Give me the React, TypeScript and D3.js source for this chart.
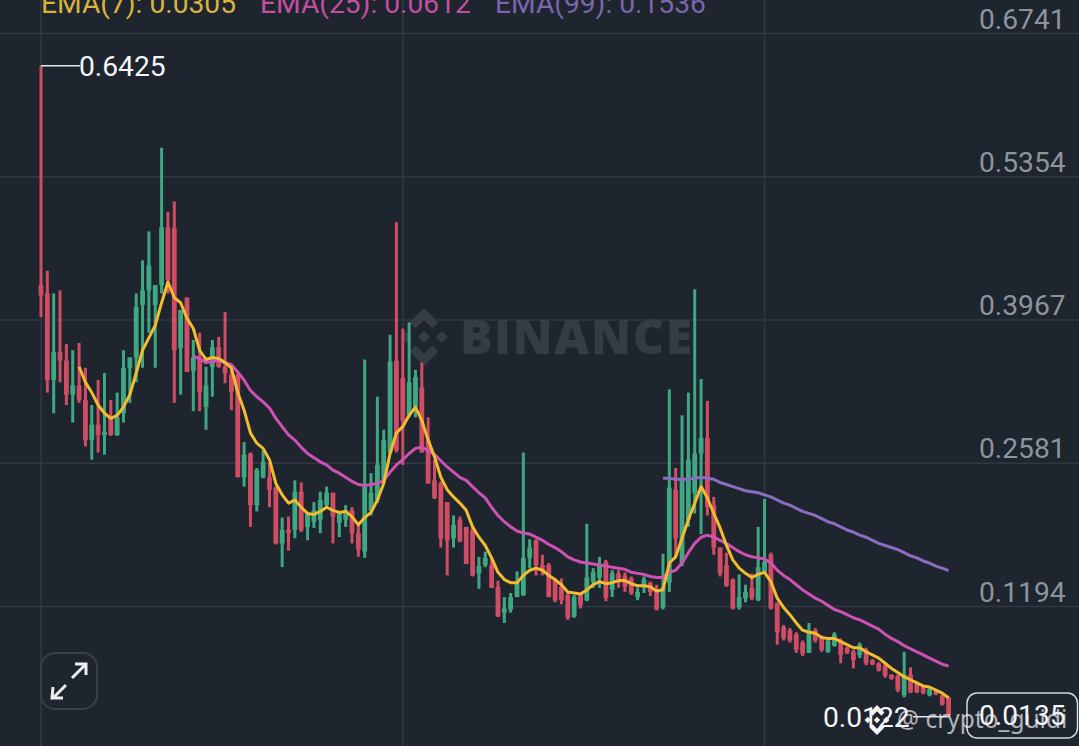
import * as d3 from 'd3';
import React, { useRef, useEffect } from 'react';

const WIDTH = 1079;
const HEIGHT = 746;

const yTicks = [0.6741, 0.5354, 0.3967, 0.2581, 0.1194];
const timeGridIndexes = [0, 57, 114]; // candles that sit on a vertical grid line

const opens = [
    0.43, 0.422, 0.338, 0.365, 0.357, 0.324, 0.333, 0.319, 0.28, 0.295, 0.285, 0.302,
    0.285, 0.306, 0.35, 0.36, 0.411, 0.425, 0.411, 0.43, 0.486, 0.485, 0.369, 0.418,
    0.347, 0.359, 0.312, 0.351, 0.37, 0.351, 0.343, 0.343, 0.244, 0.267, 0.217, 0.244,
    0.244, 0.234, 0.18, 0.193, 0.193, 0.23, 0.196, 0.201, 0.203, 0.217, 0.229, 0.2,
    0.203, 0.212, 0.19, 0.172, 0.212, 0.222, 0.241, 0.268, 0.357, 0.34, 0.304, 0.312,
    0.331, 0.28, 0.241, 0.238, 0.22, 0.185, 0.203, 0.196, 0.193, 0.151, 0.159, 0.159,
    0.138, 0.113, 0.116, 0.128, 0.13, 0.166, 0.183, 0.159, 0.159, 0.145, 0.138, 0.13,
    0.109, 0.131, 0.125, 0.143, 0.147, 0.162, 0.135, 0.151, 0.149, 0.146, 0.128, 0.138,
    0.142, 0.135, 0.118, 0.142, 0.232, 0.161, 0.203, 0.229, 0.267, 0.282, 0.217, 0.176,
    0.159, 0.145, 0.118, 0.127, 0.137, 0.125, 0.152, 0.169, 0.122, 0.099, 0.096, 0.092,
    0.084, 0.074, 0.096, 0.089, 0.075, 0.081, 0.086, 0.079, 0.075, 0.072, 0.077, 0.067,
    0.064, 0.062, 0.053, 0.052, 0.033, 0.053, 0.045, 0.042, 0.033, 0.037, 0.033, 0.031,
];
const closes = [
    0.42, 0.338, 0.365, 0.357, 0.324, 0.333, 0.319, 0.28, 0.295, 0.285, 0.288, 0.285,
    0.302, 0.35, 0.36, 0.409, 0.425, 0.449, 0.43, 0.486, 0.435, 0.367, 0.406, 0.346,
    0.36, 0.326, 0.333, 0.37, 0.351, 0.345, 0.327, 0.244, 0.266, 0.217, 0.251, 0.259,
    0.232, 0.18, 0.193, 0.19, 0.23, 0.193, 0.209, 0.212, 0.222, 0.229, 0.206, 0.209,
    0.212, 0.19, 0.174, 0.235, 0.229, 0.256, 0.28, 0.356, 0.27, 0.299, 0.336, 0.341,
    0.268, 0.238, 0.224, 0.185, 0.183, 0.198, 0.182, 0.16, 0.149, 0.158, 0.166, 0.137,
    0.109, 0.117, 0.128, 0.143, 0.166, 0.176, 0.159, 0.154, 0.128, 0.125, 0.125, 0.108,
    0.128, 0.12, 0.147, 0.152, 0.159, 0.127, 0.151, 0.142, 0.138, 0.132, 0.133, 0.145,
    0.133, 0.116, 0.138, 0.234, 0.185, 0.241, 0.261, 0.267, 0.282, 0.215, 0.176, 0.151,
    0.139, 0.117, 0.128, 0.133, 0.127, 0.157, 0.162, 0.117, 0.094, 0.088, 0.086, 0.077,
    0.073, 0.096, 0.086, 0.077, 0.086, 0.092, 0.072, 0.074, 0.067, 0.082, 0.064, 0.063,
    0.057, 0.052, 0.049, 0.038, 0.053, 0.036, 0.036, 0.035, 0.039, 0.034, 0.024, 0.0135,
];
const highs = [
    0.6425, 0.444, 0.422, 0.425, 0.373, 0.367, 0.374, 0.35, 0.314, 0.338, 0.345, 0.319,
    0.326, 0.367, 0.36, 0.422, 0.454, 0.482, 0.43, 0.563, 0.501, 0.511, 0.406, 0.418,
    0.377, 0.384, 0.351, 0.377, 0.38, 0.404, 0.351, 0.345, 0.278, 0.268, 0.253, 0.27,
    0.258, 0.235, 0.205, 0.206, 0.241, 0.239, 0.209, 0.22, 0.23, 0.235, 0.229, 0.21,
    0.217, 0.215, 0.198, 0.358, 0.248, 0.322, 0.29, 0.382, 0.491, 0.388, 0.394, 0.348,
    0.355, 0.302, 0.261, 0.24, 0.22, 0.207, 0.206, 0.196, 0.195, 0.167, 0.172, 0.167,
    0.144, 0.128, 0.132, 0.153, 0.268, 0.184, 0.184, 0.169, 0.161, 0.146, 0.146, 0.132,
    0.13, 0.132, 0.199, 0.156, 0.167, 0.164, 0.154, 0.154, 0.152, 0.148, 0.137, 0.148,
    0.143, 0.14, 0.17, 0.329, 0.253, 0.304, 0.326, 0.426, 0.339, 0.318, 0.225, 0.176,
    0.171, 0.146, 0.15, 0.14, 0.151, 0.196, 0.223, 0.171, 0.123, 0.101, 0.098, 0.094,
    0.086, 0.103, 0.098, 0.091, 0.089, 0.094, 0.088, 0.08, 0.077, 0.084, 0.079, 0.068,
    0.065, 0.064, 0.053, 0.053, 0.075, 0.06, 0.046, 0.043, 0.04, 0.038, 0.033, 0.031,
];
const lows = [
    0.399, 0.326, 0.306, 0.336, 0.314, 0.297, 0.316, 0.274, 0.261, 0.268, 0.266, 0.284,
    0.284, 0.297, 0.316, 0.336, 0.35, 0.384, 0.35, 0.422, 0.422, 0.316, 0.324, 0.346,
    0.308, 0.308, 0.29, 0.322, 0.35, 0.335, 0.309, 0.244, 0.235, 0.196, 0.211, 0.243,
    0.215, 0.179, 0.157, 0.173, 0.185, 0.191, 0.183, 0.195, 0.19, 0.214, 0.18, 0.186,
    0.196, 0.18, 0.167, 0.166, 0.207, 0.219, 0.238, 0.267, 0.268, 0.256, 0.302, 0.302,
    0.268, 0.238, 0.223, 0.176, 0.149, 0.176, 0.181, 0.16, 0.148, 0.136, 0.157, 0.137,
    0.109, 0.103, 0.113, 0.128, 0.129, 0.156, 0.149, 0.149, 0.128, 0.123, 0.121, 0.106,
    0.108, 0.117, 0.124, 0.137, 0.137, 0.124, 0.128, 0.137, 0.133, 0.13, 0.125, 0.132,
    0.129, 0.115, 0.116, 0.133, 0.167, 0.158, 0.196, 0.209, 0.189, 0.207, 0.169, 0.148,
    0.138, 0.116, 0.116, 0.123, 0.125, 0.124, 0.151, 0.116, 0.082, 0.086, 0.084, 0.074,
    0.071, 0.074, 0.084, 0.075, 0.074, 0.08, 0.064, 0.073, 0.059, 0.069, 0.062, 0.062,
    0.056, 0.05, 0.048, 0.036, 0.031, 0.035, 0.035, 0.034, 0.032, 0.033, 0.023, 0.0122,
];

// EMA lines only start once they have enough candles behind them
const ema7Start = 6;
const ema7 = [
    0.351, 0.336, 0.326, 0.314, 0.306, 0.301, 0.304, 0.312, 0.324, 0.345, 0.367, 0.379,
    0.391, 0.413, 0.433, 0.418, 0.413, 0.398, 0.388, 0.367, 0.358, 0.36, 0.359, 0.355,
    0.35, 0.326, 0.309, 0.287, 0.277, 0.272, 0.261, 0.238, 0.227, 0.219, 0.222, 0.215,
    0.209, 0.208, 0.211, 0.215, 0.212, 0.21, 0.211, 0.206, 0.198, 0.205, 0.21, 0.222,
    0.238, 0.267, 0.287, 0.293, 0.304, 0.312, 0.299, 0.28, 0.264, 0.244, 0.232, 0.225,
    0.219, 0.212, 0.196, 0.186, 0.178, 0.166, 0.152, 0.145, 0.142, 0.142, 0.149, 0.154,
    0.156, 0.154, 0.149, 0.145, 0.14, 0.133, 0.132, 0.131, 0.135, 0.14, 0.143, 0.141,
    0.142, 0.144, 0.144, 0.141, 0.139, 0.139, 0.138, 0.134, 0.135, 0.161, 0.167, 0.185,
    0.203, 0.219, 0.235, 0.224, 0.209, 0.195, 0.178, 0.164, 0.156, 0.151, 0.147, 0.15,
    0.152, 0.143, 0.127, 0.118, 0.111, 0.103, 0.096, 0.094, 0.093, 0.089, 0.088, 0.088,
    0.085, 0.082, 0.079, 0.079, 0.075, 0.072, 0.069, 0.064, 0.059, 0.055, 0.051, 0.048,
    0.045, 0.042, 0.041, 0.038, 0.035, 0.0305,
];
const ema25Start = 24;
const ema25 = [
    0.361, 0.359, 0.355, 0.356, 0.357, 0.355, 0.353, 0.346, 0.338, 0.328, 0.322, 0.317,
    0.311, 0.301, 0.293, 0.285, 0.28, 0.273, 0.267, 0.263, 0.259, 0.256, 0.251, 0.248,
    0.244, 0.24, 0.237, 0.236, 0.237, 0.238, 0.241, 0.249, 0.256, 0.261, 0.267, 0.272,
    0.273, 0.27, 0.266, 0.26, 0.254, 0.249, 0.244, 0.241, 0.235, 0.229, 0.224, 0.215,
    0.207, 0.201, 0.196, 0.192, 0.19, 0.189, 0.186, 0.183, 0.179, 0.176, 0.172, 0.167,
    0.164, 0.162, 0.161, 0.16, 0.159, 0.158, 0.157, 0.156, 0.155, 0.152, 0.151, 0.15,
    0.148, 0.147, 0.147, 0.152, 0.154, 0.161, 0.171, 0.18, 0.186, 0.188, 0.186, 0.183,
    0.18, 0.176, 0.172, 0.169, 0.167, 0.166, 0.165, 0.161, 0.154, 0.149, 0.145, 0.14,
    0.135, 0.131, 0.127, 0.124, 0.12, 0.116, 0.114, 0.111, 0.108, 0.106, 0.103, 0.1,
    0.097, 0.092, 0.088, 0.085, 0.081, 0.078, 0.075, 0.072, 0.069, 0.066, 0.063, 0.0612,
];
const ema99Start = 98;
const ema99 = [
    0.243, 0.243, 0.242, 0.242, 0.242, 0.243, 0.244, 0.243, 0.242, 0.239, 0.237, 0.235,
    0.233, 0.231, 0.23, 0.229, 0.227, 0.225, 0.222, 0.219, 0.217, 0.214, 0.211, 0.209,
    0.207, 0.204, 0.201, 0.199, 0.196, 0.193, 0.191, 0.188, 0.186, 0.183, 0.18, 0.178,
    0.176, 0.174, 0.171, 0.168, 0.166, 0.163, 0.161, 0.158, 0.156, 0.1536,
];

const legendItems = [
    { label: 'EMA(7): 0.0305', x: 41, color: '#d8b43c' },
    { label: 'EMA(25): 0.0612', x: 260, color: '#c44fa0' },
    { label: 'EMA(99): 0.1536', x: 495, color: '#7c66ab' },
];

const BG = '#1e252e';
const GRID = '#323840';
const UP = '#3fa882';
const DOWN = '#cf4d65';
const FONT = 'Roboto, "Noto Sans", sans-serif';
const LABEL_SIZE = '28.2px';

// Binance diamond mark, drawn in a -1..1 box
const drawLogo = (
    parent: d3.Selection<SVGGElement, unknown, null, undefined>,
    cx: number,
    cy: number,
    size: number,
    fill: string,
) => {
    const shapes = [
        [[0, -1], [0.5, -0.5], [0.29, -0.29], [0, -0.58], [-0.29, -0.29], [-0.5, -0.5]],
        [[0, 1], [0.5, 0.5], [0.29, 0.29], [0, 0.58], [-0.29, 0.29], [-0.5, 0.5]],
        [[-0.62, -0.21], [-0.41, 0], [-0.62, 0.21], [-0.83, 0]],
        [[0.62, -0.21], [0.83, 0], [0.62, 0.21], [0.41, 0]],
        [[0, -0.21], [0.21, 0], [0, 0.21], [-0.21, 0]],
    ];
    parent
        .append('g')
        .attr('transform', `translate(${cx}, ${cy}) scale(${size})`)
        .selectAll('polygon')
        .data(shapes)
        .join('polygon')
        .attr('points', (d) => d.map((p) => p.join(',')).join(' '))
        .attr('fill', fill);
};

export default function App() {
    const ref = useRef<SVGSVGElement | null>(null);

    useEffect(() => {
        const svg = d3.select(ref.current);
        svg.selectAll('*').remove(); // Clear previous renders

        const root = svg.append('g') as d3.Selection<SVGGElement, unknown, null, undefined>;

        const y = d3.scaleLinear().domain([yTicks[4], yTicks[0]]).range([606, 33]);
        const x = d3.scaleLinear().domain([0, opens.length - 1]).range([41, 948.6]);

        root.append('rect').attr('width', WIDTH).attr('height', HEIGHT).attr('fill', BG);

        // Grid
        root.selectAll('line.vgrid')
            .data(timeGridIndexes)
            .join('line')
            .attr('class', 'vgrid')
            .attr('x1', (d) => x(d))
            .attr('x2', (d) => x(d))
            .attr('y1', 0)
            .attr('y2', HEIGHT)
            .attr('stroke', GRID)
            .attr('stroke-width', 1.5);

        const axis = root
            .append('g')
            .call(
                d3
                    .axisRight(y)
                    .tickValues(yTicks)
                    .tickSize(WIDTH)
                    .tickFormat((d) => d3.format('.4f')(d as number)),
            );
        axis.select('.domain').remove();
        axis.selectAll('.tick line').attr('stroke', GRID).attr('stroke-width', 1.5);
        axis.selectAll('.tick text')
            .attr('x', 979)
            .attr('y', -5)
            .attr('dy', 0)
            .attr('text-anchor', 'start')
            .attr('fill', '#8c94a0')
            .style('font-family', FONT)
            .style('font-size', LABEL_SIZE);

        // Watermark
        drawLogo(root, 424, 337, 29, '#363c45');
        root.append('text')
            .text('BINANCE')
            .attr('x', 460)
            .attr('y', 354)
            .attr('fill', '#363c45')
            .style('font-family', '"Open Sans", sans-serif')
            .style('font-weight', 800)
            .style('font-size', '48px')
            .attr('textLength', 232);

        // Legend, partly cut off by the top of the picture
        root.selectAll('text.legend')
            .data(legendItems)
            .join('text')
            .attr('class', 'legend')
            .text((d) => d.label)
            .attr('x', (d) => d.x)
            .attr('y', 13)
            .attr('fill', (d) => d.color)
            .style('font-family', FONT)
            .style('font-size', LABEL_SIZE);

        // Candles
        const candles = root
            .append('g')
            .selectAll('g')
            .data(opens.map((_, i) => i))
            .join('g')
            .attr('fill', (i) => (closes[i] >= opens[i] ? UP : DOWN))
            .attr('stroke', (i) => (closes[i] >= opens[i] ? UP : DOWN));

        candles
            .append('line')
            .attr('x1', (i) => x(i))
            .attr('x2', (i) => x(i))
            .attr('y1', (i) => y(highs[i]))
            .attr('y2', (i) => y(lows[i]))
            .attr('stroke-width', 3);

        candles
            .append('rect')
            .attr('x', (i) => x(i) - 2.4)
            .attr('width', 4.8)
            .attr('y', (i) => y(Math.max(opens[i], closes[i])))
            .attr('height', (i) => Math.abs(y(opens[i]) - y(closes[i])))
            .attr('stroke', 'none');

        // EMA lines
        const emaLine = (start: number) =>
            d3
                .line<number>()
                .x((_, i) => x(start + i))
                .y((d) => y(d));

        const series: [number[], number, string][] = [
            [ema99, ema99Start, '#8a6cc0'],
            [ema25, ema25Start, '#cf51b4'],
            [ema7, ema7Start, '#f3bb2f'],
        ];
        series.forEach(([values, start, color]) => {
            root.append('path')
                .attr('d', emaLine(start)(values))
                .attr('fill', 'none')
                .attr('stroke', color)
                .attr('stroke-width', 3)
                .attr('stroke-linejoin', 'round');
        });

        // High and low callouts
        const maxHigh = d3.max(highs) as number;
        const minLow = d3.min(lows) as number;
        root.append('line')
            .attr('x1', x(0))
            .attr('x2', 80)
            .attr('y1', y(maxHigh))
            .attr('y2', y(maxHigh))
            .attr('stroke', '#e4e6ea')
            .attr('stroke-width', 1.5);
        root.append('text')
            .text(maxHigh.toFixed(4))
            .attr('x', 79)
            .attr('y', y(maxHigh) + 10)
            .attr('fill', '#f4f5f7')
            .style('font-family', FONT)
            .style('font-size', LABEL_SIZE);

        root.append('line')
            .attr('x1', 913)
            .attr('x2', x(opens.length - 1))
            .attr('y1', y(minLow))
            .attr('y2', y(minLow))
            .attr('stroke', '#e4e6ea')
            .attr('stroke-width', 1.5);
        root.append('text')
            .text(minLow.toFixed(4))
            .attr('x', 823)
            .attr('y', y(minLow) + 10)
            .attr('fill', '#f4f5f7')
            .style('font-family', FONT)
            .style('font-size', LABEL_SIZE);

        // Last price tag
        const lastClose = closes[closes.length - 1];
        root.append('rect')
            .attr('x', 967)
            .attr('y', 693)
            .attr('width', 110.5)
            .attr('height', 45)
            .attr('rx', 10)
            .attr('fill', BG)
            .attr('stroke', '#d5d8dc')
            .attr('stroke-width', 1.5);
        root.append('text')
            .text(lastClose.toFixed(4))
            .attr('x', 979)
            .attr('y', y(lastClose) + 10)
            .attr('fill', '#f4f5f7')
            .style('font-family', FONT)
            .style('font-size', LABEL_SIZE);

        // Expand button
        const button = root.append('g');
        button
            .append('rect')
            .attr('x', 41)
            .attr('y', 653)
            .attr('width', 56)
            .attr('height', 56)
            .attr('rx', 14)
            .attr('fill', BG)
            .attr('stroke', '#39404b')
            .attr('stroke-width', 2);
        const arrowPaths = [
            'M72,678 L85,665 M75,664 L86,664 L86,675',
            'M66,685 L53,698 M53,687 L52,698 L63,698',
        ];
        button
            .selectAll('path')
            .data(arrowPaths)
            .join('path')
            .attr('d', (d) => d)
            .attr('fill', 'none')
            .attr('stroke', '#eceef0')
            .attr('stroke-width', 3);

        // Reposted image overlay: small logo and handle
        drawLogo(root, 877, 720, 15, '#f2f3f5');
        root.append('text')
            .text('@ crypto_guidi')
            .attr('x', 897)
            .attr('y', 728)
            .attr('fill', 'rgba(235,237,240,0.72)')
            .style('font-family', '"Noto Sans", sans-serif')
            .style('font-size', '24.5px');
    }, []);

    return (
        <svg
            ref={ref}
            width={WIDTH}
            height={HEIGHT}
            style={{ position: 'absolute', left: 0, top: 0, display: 'block' }}
        />
    );
}
